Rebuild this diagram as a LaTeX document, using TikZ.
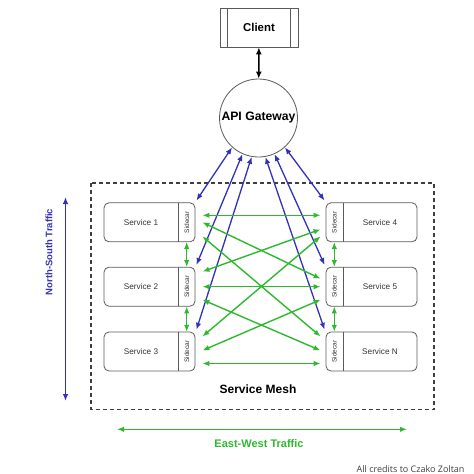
\documentclass[tikz,border=0pt]{standalone}
\usepackage{fontspec}
\setmainfont{Liberation Sans}
\newfontfamily\creditfont{Open Sans}
\usetikzlibrary{positioning,arrows.meta}
\definecolor{nsblue}{RGB}{50,50,185}
\definecolor{ewgreen}{RGB}{45,185,45}
\definecolor{boxgray}{RGB}{90,90,90}

\begin{document}
\begin{tikzpicture}[x=1pt,y=-1pt,
    svc/.style={draw=boxgray,line width=0.8pt,rounded corners=5pt,minimum width=91pt,minimum height=39pt,inner sep=0pt,font=\fontsize{8.2}{9}\selectfont,text=black!80},
    sidecar/.style={minimum width=17pt,minimum height=39pt,inner sep=0pt,font=\fontsize{6.5}{7}\selectfont,text=black!80},
    ns/.style={nsblue,line width=1.3pt,{Latex[length=7pt,width=5.5pt]}-{Latex[length=7pt,width=5.5pt]}},
    ew/.style={ewgreen,line width=1.4pt,{Latex[length=7pt,width=5.5pt]}-{Latex[length=7pt,width=5.5pt]}}]
    \useasboundingbox (0,0) rectangle (474,474);
    \node[draw=boxgray,line width=0.8pt,minimum width=78pt,minimum height=39pt,font=\bfseries\fontsize{11.4}{13}\selectfont] (client) at (259,27.5) {Client};
    \draw[boxgray,line width=0.8pt] ([xshift=8pt]client.north west) -- ([xshift=8pt]client.south west);
    \draw[boxgray,line width=0.8pt] ([xshift=-8pt]client.north east) -- ([xshift=-8pt]client.south east);
    \node[circle,draw=boxgray,line width=0.8pt,minimum size=78pt,inner sep=0pt,font=\bfseries\fontsize{12.2}{14}\selectfont] (gw) at (258.5,118) {API Gateway};
    \draw[{Latex[length=7pt,width=6pt]}-{Latex[length=7pt,width=6pt]},line width=1.5pt] (client) -- (gw);
    \draw[boxgray!70!black,line width=1.2pt,dash pattern=on 4pt off 3pt] (91,183) rectangle (434,409.5);
    \foreach \i/\y in {1/222.3,2/286.7,3/351.5} {
        \node[svc] (s\i) at (149.5,\y) {Service \i\hspace*{17pt}};
        \node[sidecar,left=0pt of s\i.east] (c\i) {\rotatebox{90}{Sidecar}};
        \draw[boxgray,line width=0.8pt] (c\i.north west) -- (c\i.south west);
    }
    \foreach \i/\y in {4/222.3,5/286.7,N/351.5} {
        \node[svc] (s\i) at (371.5,\y) {\hspace*{17pt}Service \i};
        \node[sidecar,right=0pt of s\i.west] (c\i) {\rotatebox{90}{Sidecar}};
        \draw[boxgray,line width=0.8pt] (c\i.north east) -- (c\i.south east);
    }
    \foreach \i/\a in {1/228,2/246,3/260}
    \draw[ns] ([shift={(1,-2)}]c\i.north east) -- (gw.\a);
    \foreach \i/\a in {4/312,5/294,N/280}
    \draw[ns] ([shift={(-1,-2)}]c\i.north west) -- (gw.\a);
    \draw[ew] (c1.south) -- (c2.north);
    \draw[ew] (c2.south) -- (c3.north);
    \draw[ew] (c4.south) -- (c5.north);
    \draw[ew] (c5.south) -- (cN.north);
    \foreach \a/\ya/\b/\yb in {1/-7/4/-7,1/0/5/-8,1/14/N/-15,2/-15/4/7,2/0/5/0,2/13/N/-1,3/-15/4/14,3/-1/5/13,3/12/N/12}
    \draw[ew] ([shift={(7,\ya)}]c\a.east) -- ([shift={(-5,\yb)}]c\b.west);
    \node[font=\bfseries\fontsize{12}{14}\selectfont] (mesh) at (258,389) {Service Mesh};
    \coordinate (nstop) at (65.5,197);
    \coordinate (nsbot) at (65.5,401);
    \draw[ns] (nstop) -- (nsbot);
    \node[rotate=90,text=nsblue,font=\bfseries\fontsize{9.5}{11}\selectfont] (nslabel) at (49,252) {North-South Traffic};
    \coordinate (ewleft) at (117,429.3);
    \coordinate (ewright) at (407,429.3);
    \draw[ew] (ewleft) -- (ewright);
    \node[text=ewgreen,font=\bfseries\fontsize{11}{13}\selectfont] (ewlabel) at (259,444) {East-West Traffic};
    \node[anchor=east,text=black!75,font=\creditfont\fontsize{9}{10}\selectfont] (credit) at (468,469) {All credits to Czako Zoltan};
\end{tikzpicture}
\end{document}
